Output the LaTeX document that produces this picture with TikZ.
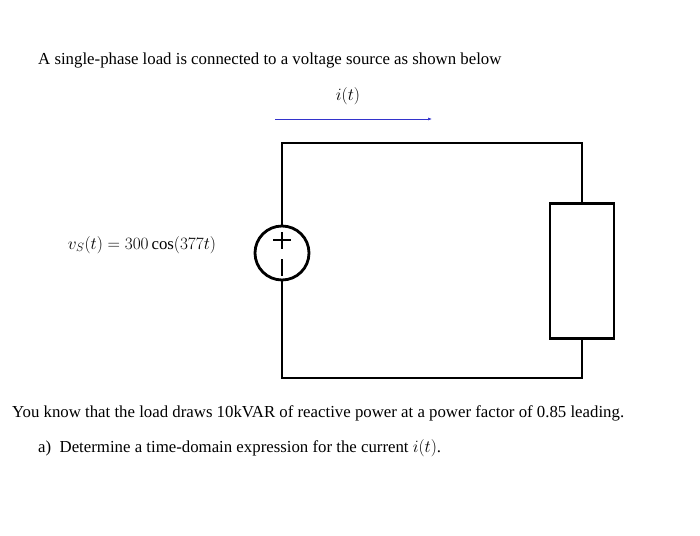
\documentclass[tikz,border=0pt]{standalone}
\usepackage{fontspec}
\setmainfont{Liberation Serif}
\usetikzlibrary{arrows.meta}
\begin{document}
\begin{tikzpicture}[x=1pt,y=-1pt,font=\fontsize{16.8}{19}\selectfont]
\tikzset{wire/.style={line width=2.8pt},
  txt/.style={anchor=west,inner sep=0pt}}
\useasboundingbox (0,0) rectangle (700,535);
\node[txt] (title) at (38,60) {A single-phase load is connected to a voltage source as shown below};
\node (cur) at (348,96) {$i(t)$};
\coordinate (ca) at (275,119);
\coordinate (cb) at (432,119);
\draw[blue!60!gray, line width=0.6pt, -{Latex[length=4pt]}] (ca) -- (cb);
\coordinate (TL) at (282,143);
\coordinate (TR) at (582,143);
\coordinate (BL) at (282,378);
\coordinate (BR) at (582,378);
\node[draw, circle, line width=2.8pt, minimum size=54pt, inner sep=0pt] (src) at (282,253) {};
\draw[line width=2pt] (282,232) -- (282,249) (273,240) -- (291,240);
\draw[line width=2pt] (282,259) -- (282,276);
\node[draw, line width=2.8pt, minimum width=64pt, minimum height=135pt, inner sep=0pt] (load) at (582,271) {};
\draw[wire] (src.north) -- (TL) -- (TR) -- (load.north);
\draw[wire] (src.south) -- (BL) -- (BR) -- (load.south);
\node (vs) at (142,245) {$v_S(t) = 300\cos(377t)$};
\node[txt] (q) at (12,413) {You know that the load draws 10kVAR of reactive power at a power factor of 0.85 leading.};
\node[txt] (qa) at (38,448) {a)\enspace Determine a time-domain expression for the current $i(t)$.};
\end{tikzpicture}
\end{document}
